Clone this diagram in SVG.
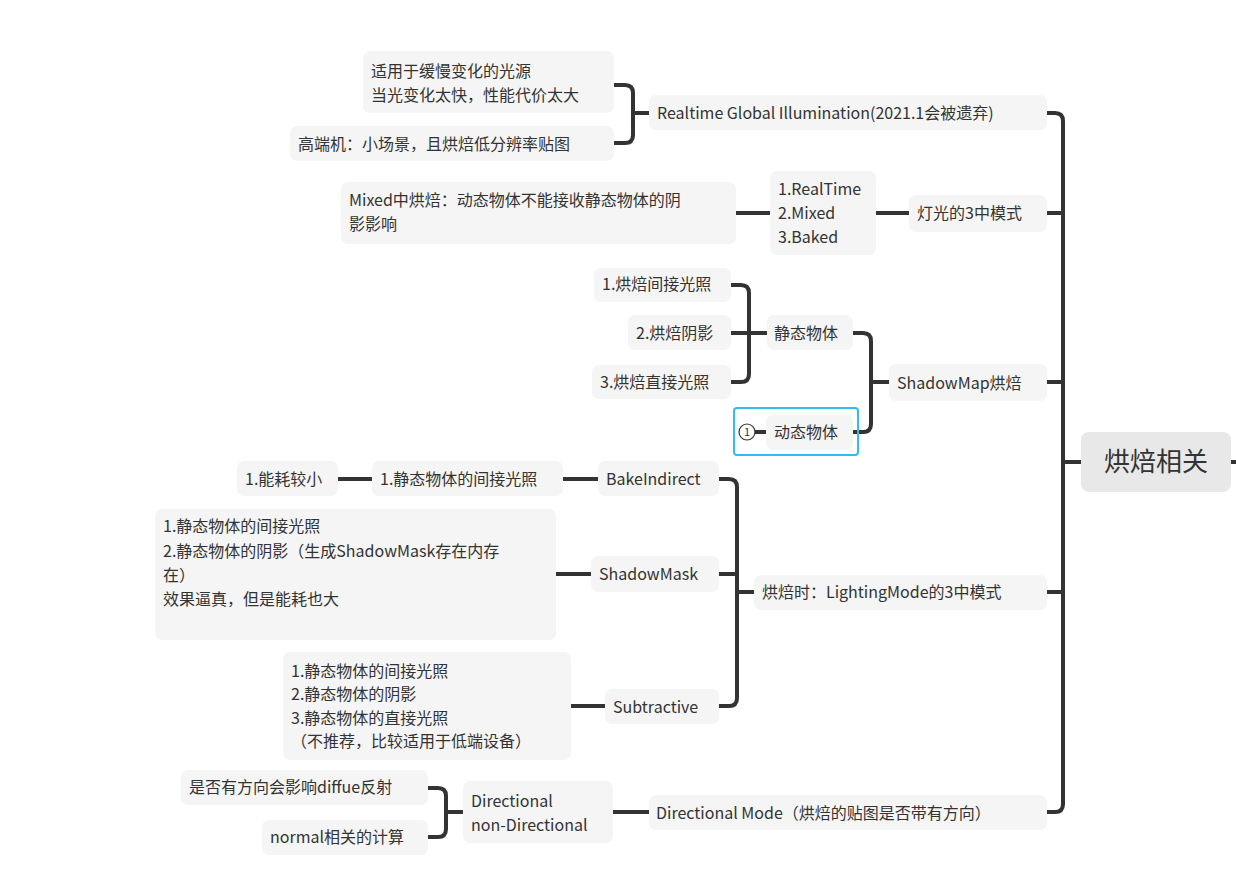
<svg xmlns="http://www.w3.org/2000/svg" width="1236" height="896" viewBox="0 0 1236 896">
<style>
.b{fill:#f5f5f5}
.t{font-family:"Noto Sans CJK SC","Noto Sans",sans-serif;font-size:16px;fill:#333}
.c{fill:none;stroke:#333;stroke-width:4;stroke-linecap:round;stroke-linejoin:round}
</style>
<rect width="1236" height="896" fill="#fff"/>
<g id="connectors">
<path class="c" d="M1081 462H1063 M1047 113H1055Q1063 113 1063 121V804Q1063 812 1055 812H1047 M1047 213H1063 M1047 382H1063 M1047 592H1063"/>
<path class="c" d="M1231 462H1236"/>
<path class="c" d="M649 113H633 M614 85H625Q633 85 633 93V135Q633 143 625 143H614"/>
<path class="c" d="M909 213H876 M770 213H736"/>
<path class="c" d="M889 382H871 M853 333H863Q871 333 871 341V424Q871 432 863 432H853"/>
<path class="c" d="M767 333H749 M731 285H741Q749 285 749 293V374Q749 382 741 382H731 M731 333H749"/>
<path class="c" d="M754 592H737 M719 479H729Q737 479 737 487V698Q737 706 729 706H719 M719 574H737"/>
<path class="c" d="M598 479H563 M372 479H338 M591 574H556 M605 706H571"/>
<path class="c" d="M649 812H613 M463 812H446 M428 788H438Q446 788 446 796V829Q446 837 438 837H428"/>
<path class="c" d="M755 432H766"/>
</g>
<g id="root"><rect x="1081" y="432" width="150" height="60" rx="8" fill="#e8e8e8"/><text x="1156" y="471" text-anchor="middle" class="t" style="font-size:26px">烘焙相关</text></g>
<g id="rgi"><rect class="b" x="649" y="95" width="398" height="35" rx="7"/><text class="t" x="657" y="119">Realtime Global Illumination(2021.1会被遗弃)</text></g>
<g id="n1"><rect class="b" x="363" y="51" width="251" height="62" rx="7"/><text class="t" x="371" y="77">适用于缓慢变化的光源</text><text class="t" x="371" y="101">当光变化太快，性能代价太大</text></g>
<g id="n2"><rect class="b" x="290" y="126" width="324" height="35" rx="7"/><text class="t" x="298" y="150">高端机：小场景，且烘焙低分辨率贴图</text></g>
<g id="light"><rect class="b" x="909" y="195" width="138" height="37" rx="7"/><text class="t" x="917" y="219">灯光的3中模式</text></g>
<g id="modes"><rect class="b" x="770" y="171" width="106" height="84" rx="7"/><text class="t" x="778" y="195">1.RealTime</text><text class="t" x="778" y="219">2.Mixed</text><text class="t" x="778" y="243">3.Baked</text></g>
<g id="mixed"><rect class="b" x="341" y="182" width="395" height="62" rx="7"/><text class="t" x="349" y="206">Mixed中烘焙：动态物体不能接收静态物体的阴</text><text class="t" x="349" y="230">影影响</text></g>
<g id="smap"><rect class="b" x="889" y="364" width="158" height="37" rx="7"/><text class="t" x="897" y="389">ShadowMap烘焙</text></g>
<g id="static"><rect class="b" x="767" y="315" width="86" height="35" rx="7"/><text class="t" x="774" y="339">静态物体</text></g>
<g id="s1"><rect class="b" x="594" y="268" width="137" height="34" rx="7"/><text class="t" x="602" y="290">1.烘焙间接光照</text></g>
<g id="s2"><rect class="b" x="628" y="315" width="103" height="35" rx="7"/><text class="t" x="636" y="339">2.烘焙阴影</text></g>
<g id="s3"><rect class="b" x="592" y="365" width="139" height="34" rx="7"/><text class="t" x="600" y="388">3.烘焙直接光照</text></g>
<g id="dynamic"><rect x="734" y="408" width="124" height="47" rx="3" fill="none" stroke="#2ebdf5" stroke-width="2"/><circle cx="747" cy="432" r="8" fill="#fff" stroke="#333" stroke-width="1.2"/><text x="747" y="436" text-anchor="middle" class="t" style="font-size:11px">1</text><rect class="b" x="766" y="415" width="87" height="35" rx="7"/><text class="t" x="774" y="438">动态物体</text></g>
<g id="lm"><rect class="b" x="754" y="575" width="293" height="35" rx="7"/><text class="t" x="762" y="598">烘焙时：LightingMode的3中模式</text></g>
<g id="bi"><rect class="b" x="598" y="461" width="121" height="35" rx="7"/><text class="t" x="606" y="485">BakeIndirect</text></g>
<g id="bi1"><rect class="b" x="372" y="461" width="191" height="35" rx="7"/><text class="t" x="380" y="485">1.静态物体的间接光照</text></g>
<g id="bi2"><rect class="b" x="237" y="461" width="101" height="35" rx="7"/><text class="t" x="245" y="485">1.能耗较小</text></g>
<g id="sm"><rect class="b" x="591" y="556" width="128" height="36" rx="7"/><text class="t" x="599" y="580">ShadowMask</text></g>
<g id="sm1"><rect class="b" x="155" y="509" width="401" height="131" rx="7"/><text class="t" x="163" y="532">1.静态物体的间接光照</text><text class="t" x="163" y="557">2.静态物体的阴影（生成ShadowMask存在内存</text><text class="t" x="163" y="581">在）</text><text class="t" x="163" y="605">效果逼真，但是能耗也大</text></g>
<g id="sub"><rect class="b" x="605" y="689" width="114" height="35" rx="7"/><text class="t" x="613" y="713">Subtractive</text></g>
<g id="sub1"><rect class="b" x="283" y="652" width="288" height="108" rx="7"/><text class="t" x="291" y="677">1.静态物体的间接光照</text><text class="t" x="291" y="700">2.静态物体的阴影</text><text class="t" x="291" y="724">3.静态物体的直接光照</text><text class="t" x="291" y="747">（不推荐，比较适用于低端设备）</text></g>
<g id="dm"><rect class="b" x="649" y="795" width="398" height="35" rx="7"/><text class="t" x="656" y="819">Directional Mode（烘焙的贴图是否带有方向）</text></g>
<g id="dir"><rect class="b" x="463" y="781" width="150" height="62" rx="7"/><text class="t" x="471" y="807">Directional</text><text class="t" x="471" y="831">non-Directional</text></g>
<g id="d1"><rect class="b" x="181" y="770" width="247" height="35" rx="7"/><text class="t" x="189" y="793">是否有方向会影响diffue反射</text></g>
<g id="d2"><rect class="b" x="262" y="820" width="166" height="35" rx="7"/><text class="t" x="270" y="843">normal相关的计算</text></g>
</svg>
